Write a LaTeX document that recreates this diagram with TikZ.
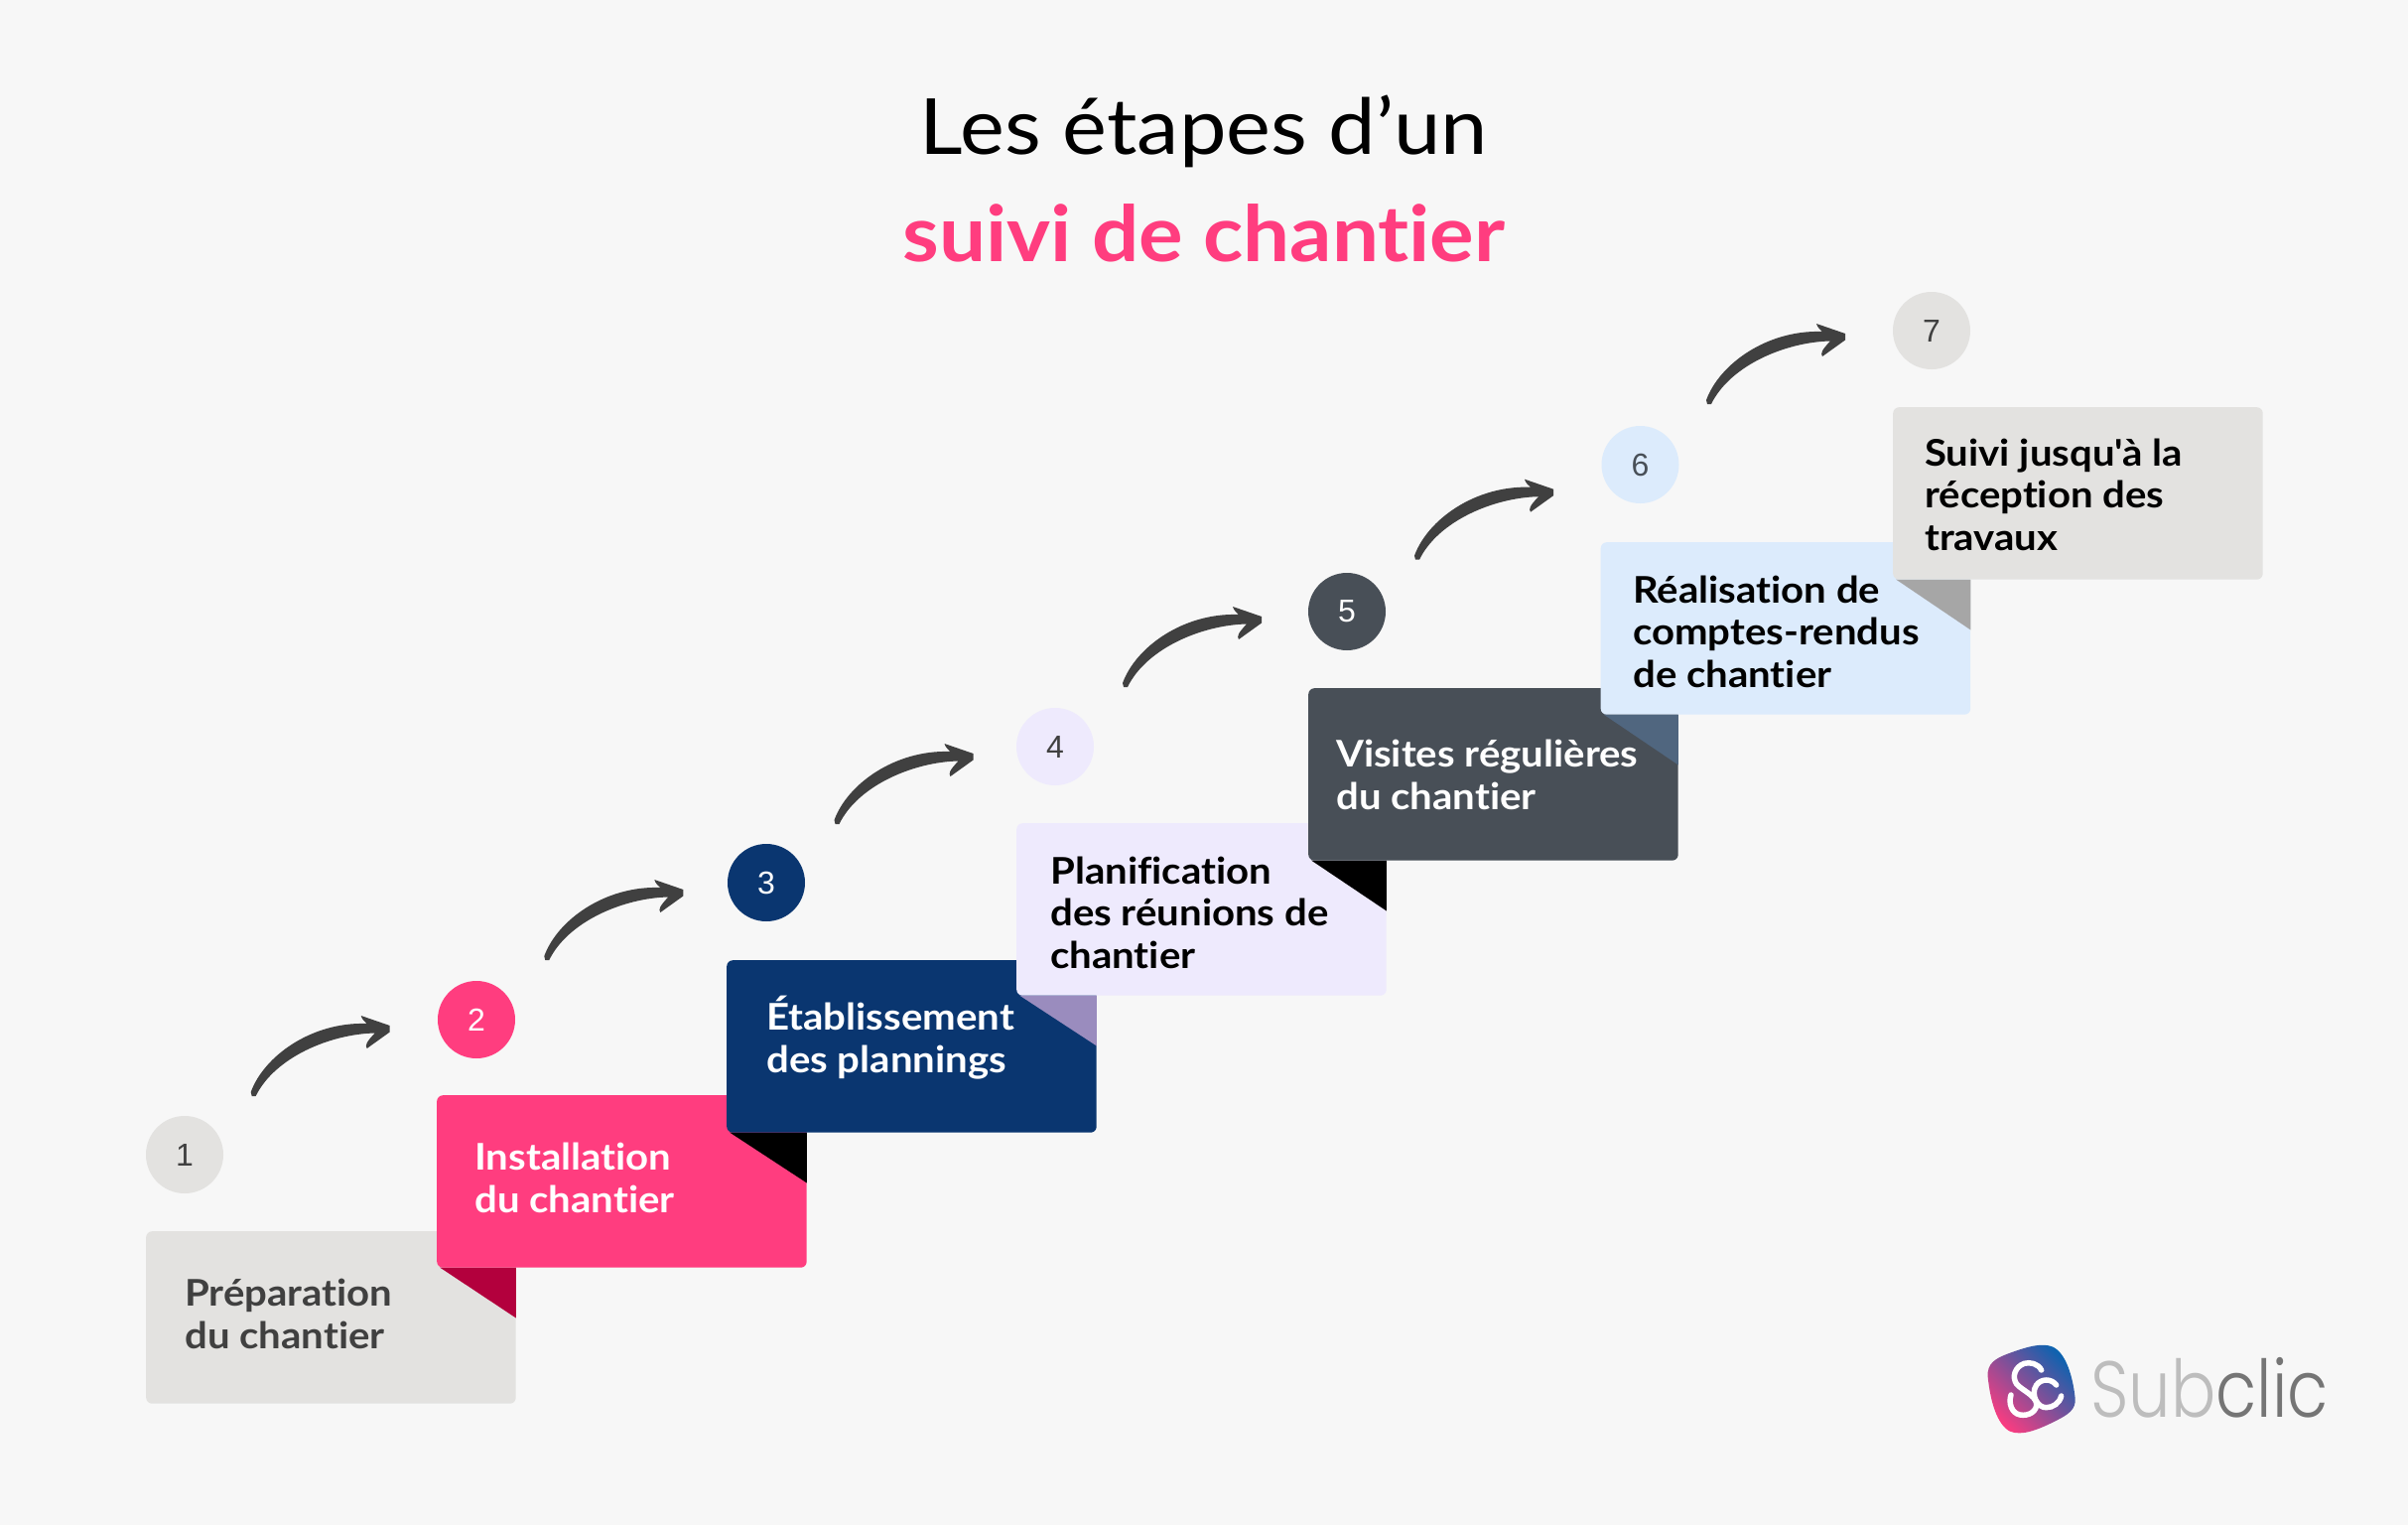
\documentclass[tikz,border=0pt]{standalone}
\usepackage{fontspec}
\usetikzlibrary{calc}
\setmainfont[FakeStretch=1.07,Ligatures={NoCommon}]{Lato}
\newfontfamily\titlefont[FakeStretch=1.088,Ligatures={NoCommon}]{Lato}
\newfontfamily\boxfont[FakeStretch=1.085,Ligatures={NoCommon}]{Lato}
\newfontfamily\numfont{Liberation Sans}
\newfontfamily\logofont[FakeStretch=0.84]{Poppins Light}
\definecolor{bgc}{HTML}{F7F7F7}
\definecolor{greyc}{HTML}{E3E2E0}
\definecolor{pinkc}{HTML}{FF3D7F}
\definecolor{navyc}{HTML}{0A3670}
\definecolor{lavc}{HTML}{EEEAFD}
\definecolor{slatec}{HTML}{484F57}
\definecolor{bluec}{HTML}{DCEBFC}
\definecolor{inkc}{HTML}{404040}
\definecolor{foldA}{HTML}{B3003D}
\definecolor{foldC}{HTML}{9A8CBE}
\definecolor{foldE}{HTML}{50667F}
\definecolor{foldF}{HTML}{A6A6A6}
\definecolor{logoa}{HTML}{0A63B0}
\definecolor{logom}{HTML}{7B4FA0}
\definecolor{logob}{HTML}{FB3C80}
\definecolor{logolight}{HTML}{BDBDBD}
\definecolor{logodark}{HTML}{757575}
\tikzset{
 stepbox/.style={anchor=north west,minimum width=372.5pt,minimum height=173.5pt,inner sep=0pt,rounded corners=6pt},
 numdisc/.style={circle,minimum size=78pt,inner sep=0pt,font=\numfont\fontsize{32}{36}\selectfont},
 steptext/.style={anchor=base west,inner sep=0pt,align=left,font=\boxfont\bfseries\fontsize{37}{42.5}\selectfont},
 pics/swoosh/.style={code={
  \fill[inkc] (-140,64) .. controls (-127,28) and (-79,-7) .. (-23,-5)
     .. controls (-25,-7) and (-28,-9) .. (-29,-13) -- (0,-3) -- (0,3.5) -- (-23,20)
     .. controls (-25,17) and (-24,14) .. (-15,4.5)
     .. controls (-60,5.5) and (-116,29) .. (-135,68) -- (-139,68) -- cycle;
 }},
 logostroke/.style={draw=white,line width=5.5pt,line cap=round},
}
\newcommand{\foldat}[3]{\coordinate (fp) at ($(#3)+(3,173.5)$);
  \fill[#1] (fp) -- (#2.east |- fp) -- ($(#2.east |- fp)+(0,51)$) -- cycle;}
\begin{document}
\begin{tikzpicture}[x=1pt,y=-1pt]
\useasboundingbox (0,0) rectangle (2426,1536);
\fill[bgc] (0,0) rectangle (2426,1536);
% title
\node[anchor=base,inner sep=0pt,font=\titlefont\fontsize{78}{80}\selectfont,text=black] (title1) at (1213,156) {Les étapes d’un};
\node[anchor=base,inner sep=0pt,font=\bfseries\fontsize{78}{80}\selectfont,text=pinkc] (title2) at (1213,263) {suivi de chantier};
% corners of the boxes
\coordinate (c1) at (147,1240);
\coordinate (c2) at (440,1103);
\coordinate (c3) at (732,967);
\coordinate (c4) at (1024,829);
\coordinate (c5) at (1318,693);
\coordinate (c6) at (1612.5,546);
\coordinate (c7) at (1907,410);
% boxes and folds in stacking order
\node[stepbox,fill=greyc] (b1) at (c1) {};
\foldat{foldA}{b1}{c2}
\node[stepbox,fill=pinkc] (b2) at (c2) {};
\foldat{black}{b2}{c3}
\node[stepbox,fill=navyc] (b3) at (c3) {};
\foldat{foldC}{b3}{c4}
\node[stepbox,fill=lavc] (b4) at (c4) {};
\foldat{black}{b4}{c5}
\node[stepbox,fill=slatec] (b5) at (c5) {};
\foldat{foldE}{b5}{c6}
\node[stepbox,fill=bluec] (b6) at (c6) {};
\foldat{foldF}{b6}{c7}
\node[stepbox,fill=greyc] (b7) at (c7) {};
% box texts (the base anchor is the last line)
\node[steptext,text=inkc] (t1) at (186,1358) {Préparation\\du chantier};
\node[steptext,text=white] (t2) at (478,1221) {Installation\\du chantier};
\node[steptext,text=white] (t3) at (772,1080) {Établissement\\des plannings};
\node[steptext,text=black] (t4) at (1058,975) {Planification\\des réunions de\\chantier};
\node[steptext,text=white] (t5) at (1346,815) {Visites régulières\\du chantier};
\node[steptext,text=black] (t6) at (1645,692) {Réalisation de\\comptes-rendus\\de chantier};
\node[steptext,text=black] (t7) at (1939,554) {Suivi jusqu'à la\\réception des\\travaux};
% number discs
\node[numdisc,fill=greyc,text=inkc] (n1) at (186,1163) {1};
\node[numdisc,fill=pinkc,text=white] (n2) at (480,1027) {2};
\node[numdisc,fill=navyc,text=white] (n3) at (772,889) {3};
\node[numdisc,fill=lavc,text=inkc] (n4) at (1063,752) {4};
\node[numdisc,fill=slatec,text=white] (n5) at (1357,616) {5};
\node[numdisc,fill=bluec,text=slatec] (n6) at (1652.5,468) {6};
\node[numdisc,fill=greyc,text=inkc] (n7) at (1946,333) {7};
% arrows
\coordinate (a1) at (392.7,1036);
\coordinate (a2) at (688.3,899);
\coordinate (a3) at (980.5,762);
\coordinate (a4) at (1271,624);
\coordinate (a5) at (1565,495.7);
\coordinate (a6) at (1859,339);
\foreach \k in {a1,a2,a3,a4,a5,a6} \pic at (\k) {swoosh};
% logo
\begin{scope}[shift={(1960,1320)},x=0.3333pt,y=-0.3333pt]
\path[left color=logoa,middle color=logom,right color=logob,shading angle=-45]
  (128,200) .. controls (125,160) and (150,145) .. (190,130)
  .. controls (240,112) and (290,95) .. (325,110)
  .. controls (365,130) and (385,200) .. (392,265)
  .. controls (395,300) and (370,315) .. (330,335)
  .. controls (280,360) and (230,380) .. (195,365)
  .. controls (155,345) and (135,270) .. (128,200) -- cycle;
\draw[logostroke] (290,180) .. controls (280,160) and (255,155) .. (238,160)
  .. controls (210,170) and (200,200) .. (215,222)
  .. controls (230,240) and (270,255) .. (275,280)
  .. controls (278,305) and (250,320) .. (225,315)
  .. controls (200,310) and (190,280) .. (198,255);
\draw[logostroke] (335,225) .. controls (320,205) and (290,205) .. (275,225)
  .. controls (255,255) and (280,295) .. (305,293)
  .. controls (325,293) and (345,280) .. (350,258);
\end{scope}
\node[anchor=base west,inner sep=0pt,font=\logofont\fontsize{80}{80}\selectfont] (logoword) at (2106,1427) {\textcolor{logolight}{Sub}\textcolor{logodark}{clic}};
\end{tikzpicture}
\end{document}
